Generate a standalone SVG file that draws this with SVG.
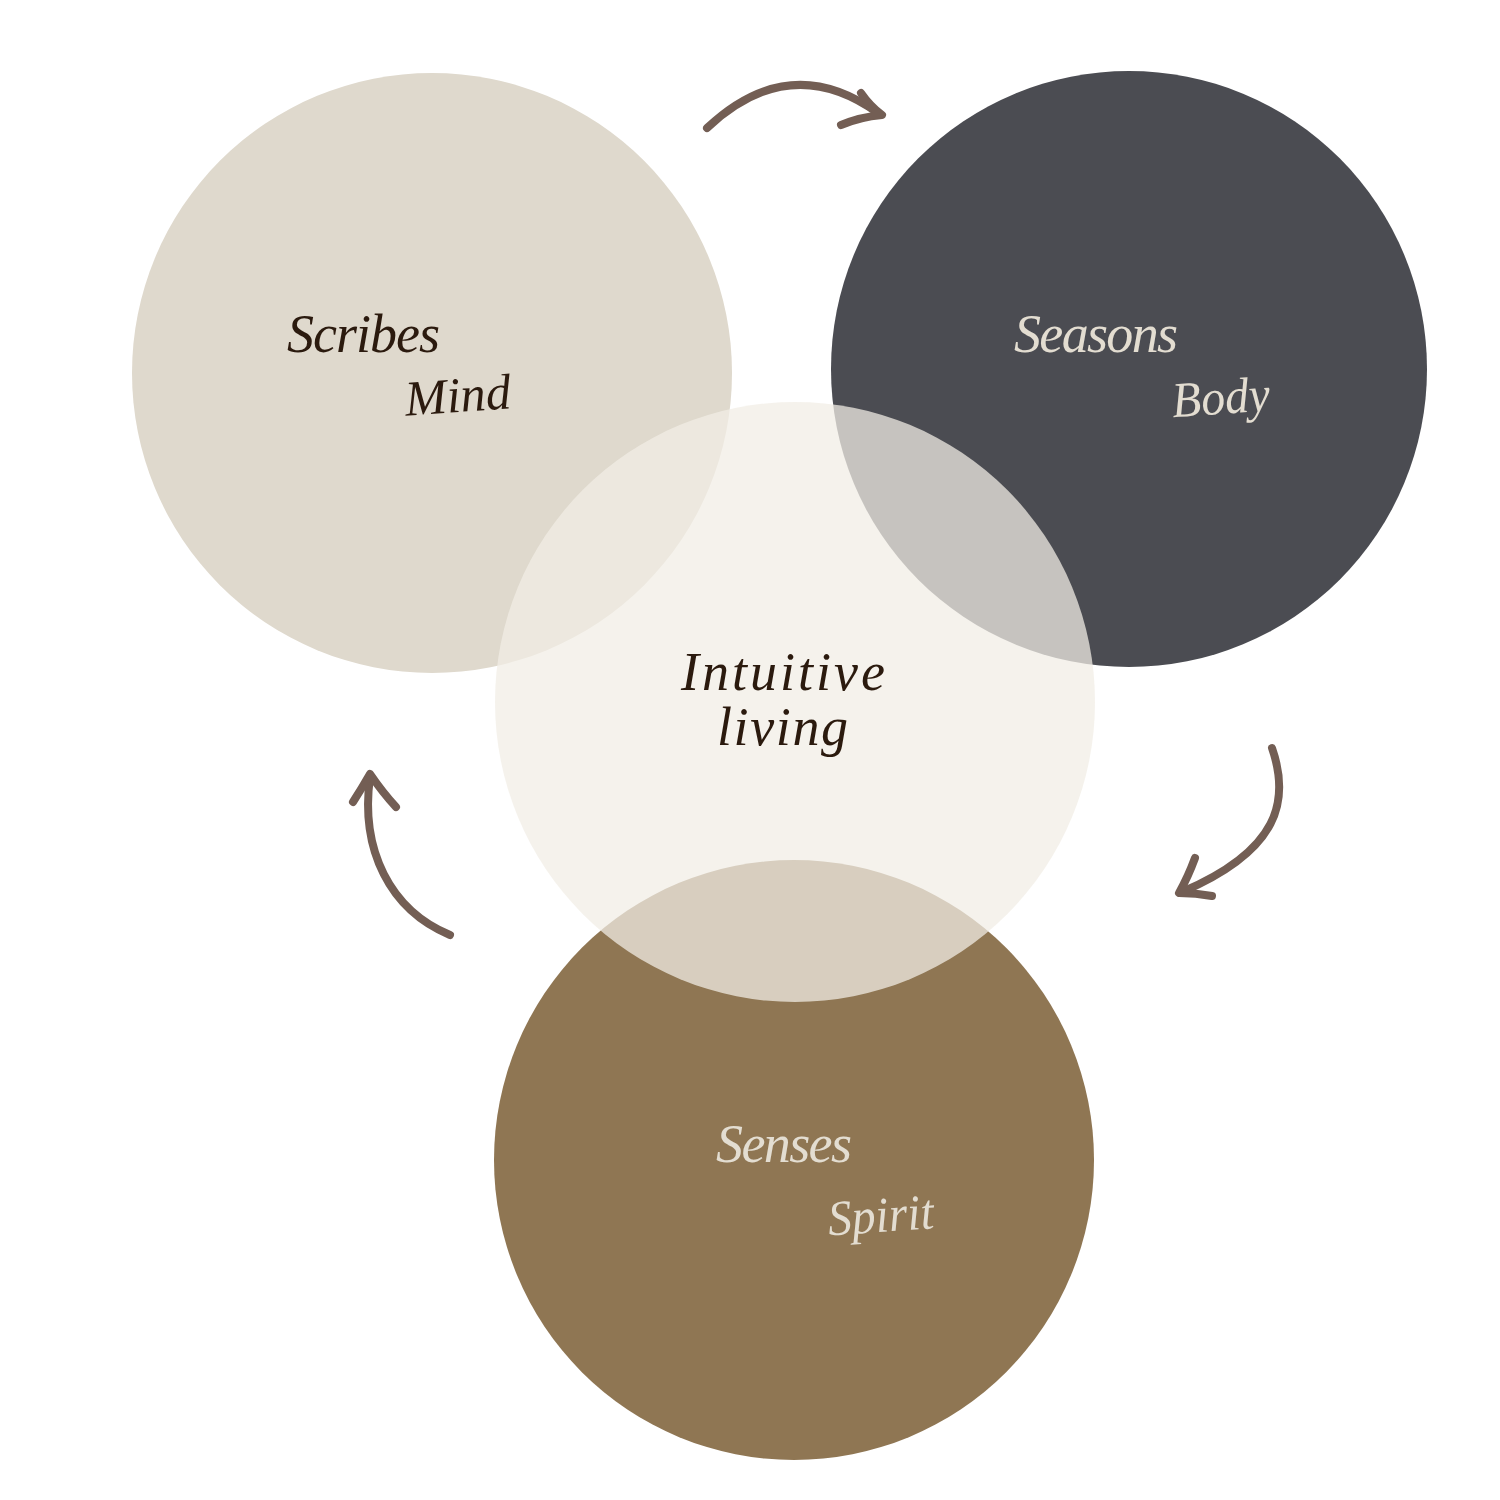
<svg xmlns="http://www.w3.org/2000/svg" width="1500" height="1500" viewBox="0 0 1500 1500">
<style>
.title{font-family:"Liberation Serif","DejaVu Serif",serif;font-style:italic;font-size:54px;}
.sub{font-family:"Liberation Serif","DejaVu Serif",serif;font-style:italic;font-size:50px;font-weight:normal;}
.dark{fill:#2B1A0E;}
.light{fill:#E3DDD1;}
.arrow{fill:none;stroke:#735E54;stroke-width:8;stroke-linecap:round;stroke-linejoin:round;}
</style>
<rect width="1500" height="1500" fill="#FFFFFF"/>
<g id="node-scribes">
<circle cx="432" cy="373" r="300" fill="#DFD9CD"/>
</g>
<g id="node-seasons">
<circle cx="1129" cy="369" r="298" fill="#4B4C52"/>
</g>
<g id="node-senses">
<circle cx="794" cy="1160" r="300" fill="#8F7653"/>
</g>
<g id="node-intuitive">
<circle cx="795" cy="702" r="300" fill="#F1EDE5" fill-opacity="0.74"/>
</g>
<g id="labels">
<text class="title dark" x="287" y="352" textLength="153" lengthAdjust="spacing">Scribes</text>
<text class="sub dark" x="405" y="412" textLength="106" lengthAdjust="spacingAndGlyphs" transform="rotate(-4 458 400)">Mind</text>
<text class="title light" x="1014" y="352" textLength="164" lengthAdjust="spacing">Seasons</text>
<text class="sub light" x="1172" y="414" textLength="98" lengthAdjust="spacingAndGlyphs" transform="rotate(-4 1220 400)">Body</text>
<text class="title dark" x="681" y="690" textLength="204" lengthAdjust="spacing">Intuitive</text>
<text class="title dark" x="717" y="745" textLength="131" lengthAdjust="spacing">living</text>
<text class="title light" x="716" y="1162" textLength="136" lengthAdjust="spacing">Senses</text>
<text class="sub light" x="828" y="1232" textLength="106" lengthAdjust="spacingAndGlyphs" transform="rotate(-4 880 1220)">Spirit</text>
</g>
<g id="connectors">
<path class="arrow" d="M707,128 Q790,50 878,113"/>
<path class="arrow" d="M861,93 Q870,106 882,115 Q860,117 841,125"/>
<path class="arrow" d="M1272,748 C1290,800 1280,850 1182,892"/>
<path class="arrow" d="M1195,858 Q1188,877 1179,893 Q1196,893 1212,896"/>
<path class="arrow" d="M450,935 C390,910 360,850 370,777"/>
<path class="arrow" d="M353,802 Q362,788 370,774 Q383,793 396,807"/>
</g>
</svg>
